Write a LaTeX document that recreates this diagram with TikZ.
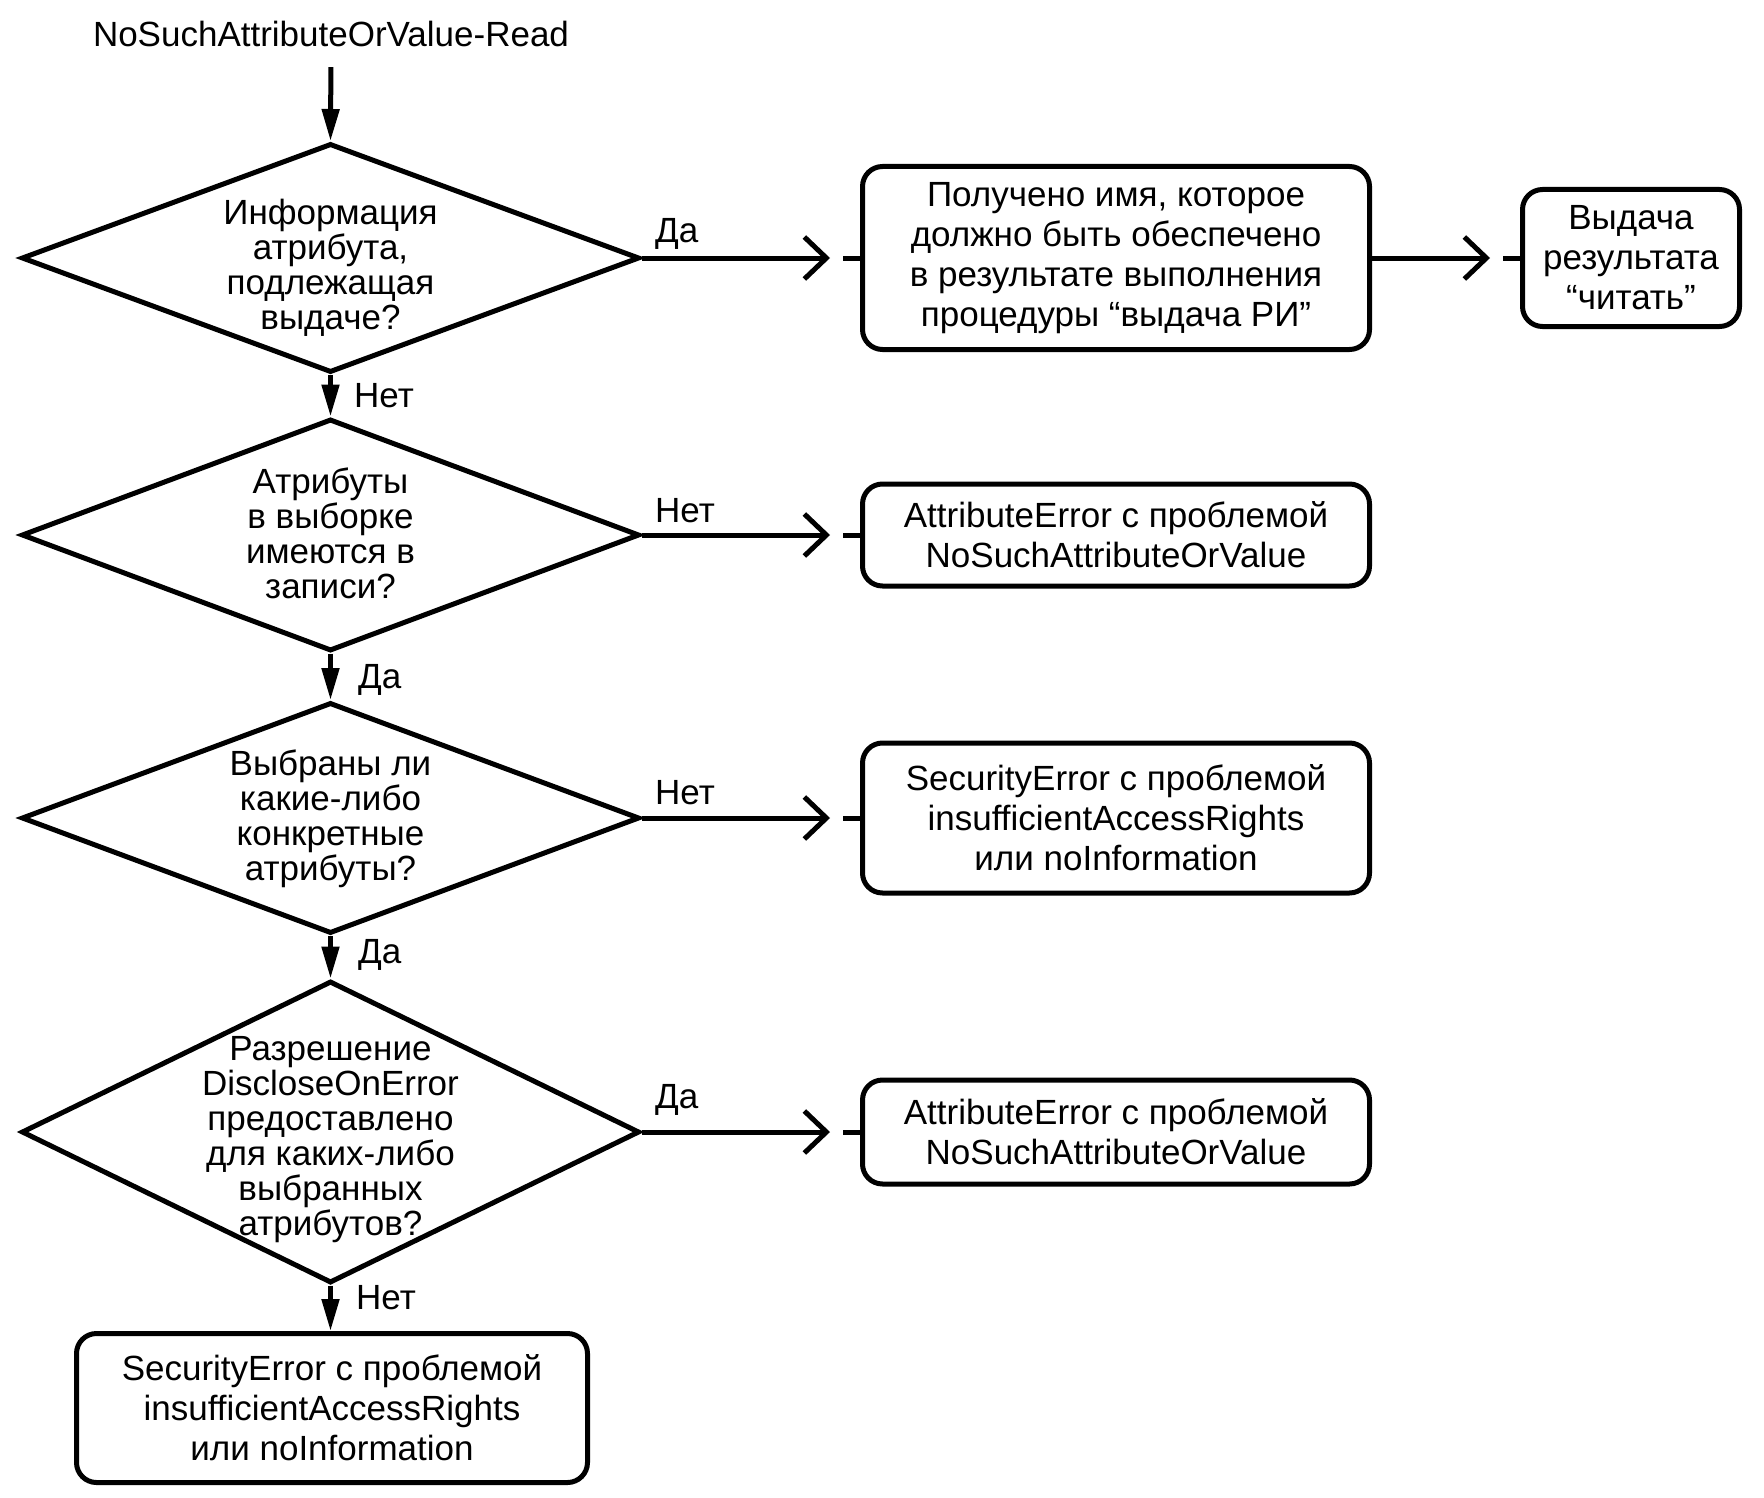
\documentclass[tikz,border=0pt]{standalone}
\usepackage{fontspec}
\setmainfont{Liberation Sans}
\usetikzlibrary{shapes.geometric,arrows.meta}
\begin{document}
\begin{tikzpicture}[x=1pt,y=1pt,
  txt/.style={font=\fontsize{35}{40}\selectfont, inner sep=0pt},
  dia/.style={draw, diamond, line width=5pt, inner sep=0pt, minimum width=618pt},
  dtext/.style={align=center, inner sep=0pt, font=\fontsize{35}{35}\selectfont},
  box/.style={draw, rounded corners=20pt, line width=5pt, align=center, inner sep=0pt, font=\fontsize{35}{40}\selectfont},
  conn/.style={line width=5pt},
  downarrow/.style={conn, -{Triangle[length=32pt,width=17pt]}},
  rarrow/.style={conn, -{Straight Barb[length=22pt,width=42pt]}},
  lbl/.style={txt, anchor=base west}
]
\useasboundingbox (0,0) rectangle (1764,-1498);

% title
\node[txt] (title) at (331,-34) {NoSuchAttributeOrValue-Read};

% diamonds
\node[dia, minimum height=229pt] (d1) at (330.5,-258) {};
\node[dia, minimum height=232pt] (d2) at (330.5,-535) {};
\node[dia, minimum height=231pt] (d3) at (330.5,-818) {};
\node[dia, minimum height=302pt] (d4) at (330.5,-1132) {};
\node[dtext] (t1) at (330.5,-268) {Информация\\атрибута,\\подлежащая\\выдаче?};
\node[dtext] (t2) at (330.5,-533) {Атрибуты\\в выборке\\имеются в\\записи?};
\node[dtext] (t3) at (330.5,-819) {Выбраны ли\\какие-либо\\конкретные\\атрибуты?};
\node[dtext] (t4) at (330.5,-1140) {Разрешение\\DiscloseOnError\\предоставлено\\для каких-либо\\выбранных\\атрибутов?};

% boxes
\node[box, minimum width=507pt, minimum height=183pt] (b1) at (1116,-258) {Получено имя, которое\\должно быть обеспечено\\в результате выполнения\\процедуры “выдача РИ”};
\node[box, minimum width=217pt, minimum height=137pt] (b6) at (1631,-258) {Выдача\\результата\\“читать”};
\node[box, minimum width=507pt, minimum height=102pt] (b2) at (1116,-535) {AttributeError с проблемой\\NoSuchAttributeOrValue};
\node[box, minimum width=507pt, minimum height=150pt] (b3) at (1116,-818) {SecurityError с проблемой\\insufficientAccessRights\\или noInformation};
\node[box, minimum width=507pt, minimum height=104pt] (b4) at (1116,-1132) {AttributeError с проблемой\\NoSuchAttributeOrValue};
\node[box, minimum width=511pt, minimum height=149pt] (b5) at (332,-1408) {SecurityError с проблемой\\insufficientAccessRights\\или noInformation};

% vertical connectors
\draw[downarrow, shorten <=20pt] (title.south) -- (d1.north);
\draw[downarrow] (d1.south) -- (d2.north);
\draw[downarrow] (d2.south) -- (d3.north);
\draw[downarrow] (d3.south) -- (d4.north);
\draw[downarrow] (d4.south) -- (d4.south |- b5.north);

% horizontal connectors
\draw[rarrow] (d1.east) -- ([xshift=-30pt]b1.west);
\draw[conn] ([xshift=-17pt]b1.west) -- (b1.west);
\draw[rarrow] (b1.east) -- ([xshift=-30pt]b6.west);
\draw[conn] ([xshift=-17pt]b6.west) -- (b6.west);
\draw[rarrow] (d2.east) -- ([xshift=-30pt]b2.west);
\draw[conn] ([xshift=-17pt]b2.west) -- (b2.west);
\draw[rarrow] (d3.east) -- ([xshift=-30pt]b3.west);
\draw[conn] ([xshift=-17pt]b3.west) -- (b3.west);
\draw[rarrow] (d4.east) -- ([xshift=-30pt]b4.west);
\draw[conn] ([xshift=-17pt]b4.west) -- (b4.west);

% labels
\node[lbl] (l1) at (655,-243) {Да};
\node[lbl] (l2) at (655,-522) {Нет};
\node[lbl] (l3) at (655,-804) {Нет};
\node[lbl] (l4) at (655,-1108) {Да};
\node[lbl] (l5) at (354,-407) {Нет};
\node[lbl] (l6) at (358,-688) {Да};
\node[lbl] (l7) at (358,-963) {Да};
\node[lbl] (l8) at (356,-1309) {Нет};
\end{tikzpicture}
\end{document}
